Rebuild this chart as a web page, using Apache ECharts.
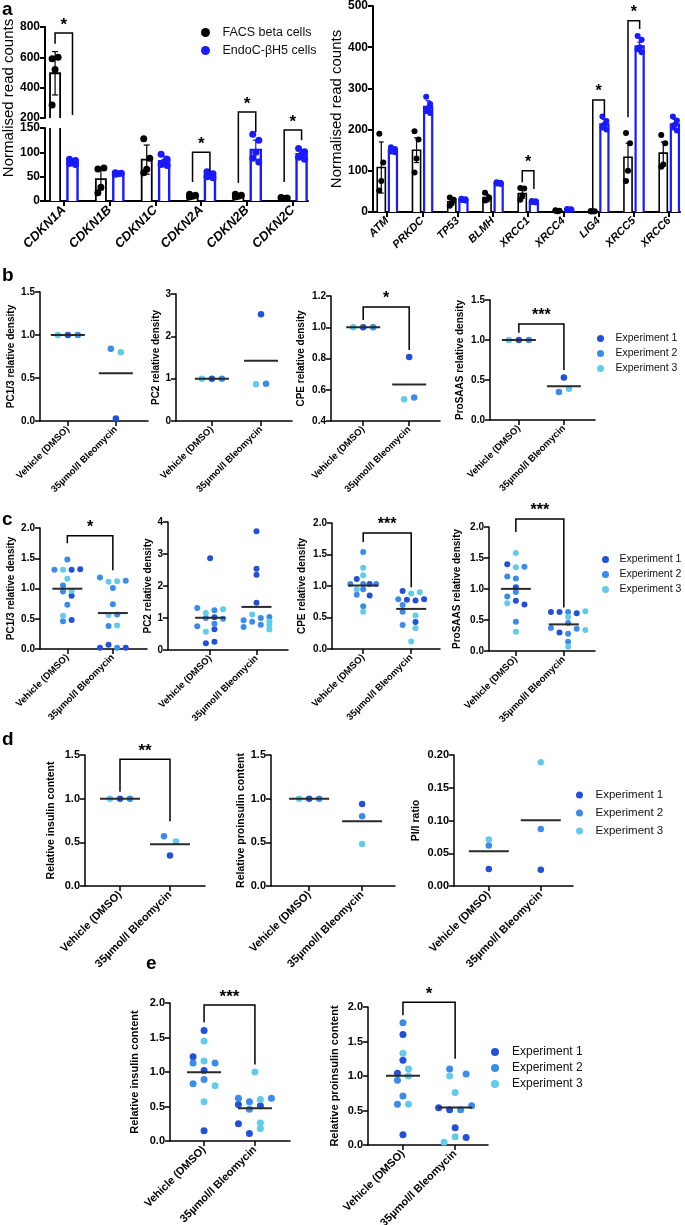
<!DOCTYPE html>
<html>
<head>
<meta charset="utf-8">
<title>Figure</title>
<script src="https://cdn.jsdelivr.net/npm/echarts@6.0.0/dist/echarts.min.js"></script>
<style>
  html, body { margin: 0; padding: 0; background: #fff; }
  #fig { width: 685px; height: 1225px; }
</style>
</head>
<body>
<div id="fig"></div>
<script>
// ---------- panel a: normalised read counts, mean +/- SD and the single samples
const genesA = ['CDKN1A', 'CDKN1B', 'CDKN1C', 'CDKN2A', 'CDKN2B', 'CDKN2C']
const facsMeanA = [495, 45, 85, 11, 11, 6]
const facsSdA = [143, 22, 30, 3, 3, 1]
const facsPtsA = [[590, 600, 520, 285], [66, 68, 28, 17], [128, 88, 65, 58], [14, 12, 10, 8], [14, 12, 10, 8], [7, 6, 5, 6]]
const endoMeanA = [80, 56, 82, 53, 105, 96]
const endoSdA = [4, 2, 10, 5, 20, 9]
const endoPtsA = [[86, 83, 80, 77, 75], [58, 57, 56, 55], [96, 86, 80, 75, 73], [60, 56, 52, 50, 48], [137, 125, 100, 88, 80], [108, 101, 95, 90, 86]]
// [gene, bracket top, left leg end, right leg end, label]
const sigA = [[0, 760, 690, 220, '*'], [3, 100, 39, 60, '*'], [4, 183, 37, 142, '*'], [5, 146, 39, 125, '*']]

const genesB = ['ATM', 'PRKDC', 'TP53', 'BLMH', 'XRCC1', 'XRCC4', 'LIG4', 'XRCC5', 'XRCC6']
const facsMeanB = [108, 150, 25, 35, 45, 3, 2, 133, 143]
const facsSdB = [62, 30, 8, 8, 12, 1, 1, 34, 27]
const facsPtsB = [[190, 120, 75, 52], [196, 176, 130, 96], [35, 30, 22, 15], [47, 35, 30, 28], [58, 57, 40, 30], [4, 3, 2, 3], [2, 2, 1, 2], [192, 167, 100, 75], [187, 167, 115, 110]]
const endoMeanB = [150, 255, 30, 70, 25, 6, 213, 402, 213]
const endoSdB = [6, 15, 2, 2, 2, 1, 12, 10, 12]
const endoPtsB = [[157, 153, 150, 147, 145], [280, 262, 252, 245, 240], [32, 31, 30, 29, 28], [72, 71, 70, 69, 68], [27, 26, 25, 24, 23], [7, 6, 6, 5, 6], [232, 221, 212, 205, 200], [427, 418, 400, 395, 388], [232, 222, 212, 205, 198]]
const sigB = [[4, 100, 72, 56, '*'], [6, 272, 4, 234, '*'], [7, 464, 230, 444, '*']]

// ---------- panels b-e: [value, experiment, swarm slot]
const groupNames = ['Vehicle (DMSO)', '35µmol/l Bleomycin']
const expNames = ['Experiment 1', 'Experiment 2', 'Experiment 3']

const bPc13Veh = [[1, 3, -1], [1, 1, 0], [1, 2, 1]]
const bPc13Bleo = [[0.84, 2, -0.5], [0.03, 1, 0], [0.80, 3, 0.5]]
const bPc2Veh = [[1, 3, -1], [1, 1, 0], [1, 2, 1]]
const bPc2Bleo = [[2.52, 1, 0], [0.87, 3, -0.5], [0.88, 2, 0.5]]
const bCpeVeh = [[1, 3, -1], [1, 1, 0], [1, 2, 1]]
const bCpeBleo = [[0.81, 1, 0], [0.54, 3, -0.5], [0.55, 2, 0.5]]
const bSaasVeh = [[1, 3, -1], [1, 1, 0], [1, 2, 1]]
const bSaasBleo = [[0.53, 1, 0], [0.35, 2, -0.5], [0.39, 3, 0.5]]
const bSigCpe = [1.13, 1.046, 0.855, '*']
const bSigSaas = [1.2, 1.09, 0.625, '***']

const cPc13Veh = [[1.48, 2, 0], [1.31, 2, -3], [1.31, 3, -1], [1.31, 1, 1], [1.32, 1, 3], [1.16, 3, 0], [1.05, 2, -1], [0.95, 2, -1], [0.96, 3, 1], [0.88, 1, 1], [0.73, 2, 0], [0.55, 3, -1], [0.46, 2, -1], [0.48, 1, 1]]
const cPc13Bleo = [[1.18, 2, -3], [1.11, 3, -1], [1.12, 3, 1], [1.13, 2, 3], [1.01, 2, 0], [0.74, 2, 0], [0.56, 3, -1], [0.57, 2, 1], [0.38, 2, -1], [0.39, 3, 1], [0.07, 1, -1], [0.02, 1, -3], [0.02, 2, 1], [0.02, 1, 3]]
const cPc2Veh = [[2.87, 1, 0], [1.31, 2, -3], [1.16, 3, -1], [1.24, 2, 1], [1.27, 3, 3], [1.0, 2, -1], [1.02, 1, 1], [0.98, 2, 3], [0.82, 2, 1], [0.74, 2, -3], [0.57, 3, -1], [0.65, 1, 1], [0.21, 1, -1], [0.26, 1, 1]]
const cPc2Bleo = [[3.71, 1, 0], [2.54, 1, 0], [2.35, 1, 0], [1.48, 1, 0], [1.11, 3, -1], [1.0, 2, 1], [1.03, 2, 3], [0.93, 2, -3], [0.89, 3, 3], [0.88, 2, -1], [0.79, 2, 1], [0.78, 3, 3], [0.72, 2, -3], [0.64, 3, 3]]
const cCpeVeh = [[1.54, 2, 0], [1.29, 3, 0], [1.17, 3, 0], [1.11, 1, -1.5], [1.03, 2, -3], [1.03, 2, 0], [1.03, 1, 1.5], [1.03, 2, 3], [0.95, 3, -1.5], [0.95, 2, 0], [0.86, 2, -1.5], [0.85, 1, 1.5], [0.68, 2, 0], [0.59, 3, 0]]
const cCpeBleo = [[0.92, 1, -2], [0.88, 3, 0], [0.90, 3, 2], [0.79, 2, -3], [0.78, 1, -1], [0.77, 1, 1], [0.79, 1, 3], [0.70, 2, -2], [0.59, 2, -2], [0.53, 3, 1], [0.38, 2, -2], [0.43, 1, 1], [0.33, 3, 1], [0.12, 3, 0]]
const cSaasVeh = [[1.58, 3, 0], [1.40, 1, -2], [1.35, 3, 0], [1.36, 2, 2], [1.20, 2, -2], [1.17, 2, 0], [1.03, 1, 0], [0.95, 2, 0], [0.88, 2, -2], [0.81, 1, 0], [0.77, 3, -2], [0.75, 1, 2], [0.47, 2, 0], [0.31, 3, 0]]
const cSaasBleo = [[0.63, 1, -3], [0.63, 1, -1], [0.63, 2, 1], [0.61, 1, 3], [0.64, 3, 5], [0.55, 3, 1], [0.45, 2, 1], [0.37, 2, -3], [0.36, 2, 3], [0.34, 3, 5], [0.30, 1, -1], [0.28, 2, 1], [0.15, 2, 1], [0.07, 3, 1]]
const cSigPc13 = [1.87, 1.75, 1.30, '*']
const cSigCpe = [1.84, 1.70, 0.98, '***']
const cSigSaas = [2.13, 1.92, 0.70, '***']

const dInsVeh = [[1, 3, -1], [1, 1, 0], [1, 2, 1]]
const dInsBleo = [[0.57, 2, -0.6], [0.35, 1, 0], [0.51, 3, 0.6]]
const dProVeh = [[1, 3, -1], [1, 1, 0], [1, 2, 1]]
const dProBleo = [[0.94, 1, 0], [0.80, 2, 0], [0.48, 3, 0]]
const dPiVeh = [[0.071, 3, 0], [0.062, 2, 0], [0.026, 1, 0]]
const dPiBleo = [[0.189, 3, 0], [0.087, 2, 0], [0.025, 1, 0]]
const dSigIns = [1.45, 1.08, 0.74, '**']

const eInsVeh = [[1.60, 1, 0], [1.45, 3, 0], [1.22, 1, -1], [1.13, 2, -1], [1.16, 3, 0], [1.13, 2, 1], [1.02, 1, 0], [0.83, 2, -1], [0.89, 2, 0], [0.80, 3, 1], [0.57, 3, 0], [0.15, 1, 0]]
const eInsBleo = [[1.0, 3, 0], [0.62, 2, -1.5], [0.57, 2, -0.5], [0.60, 3, 0.5], [0.62, 2, 1.5], [0.53, 1, -1.5], [0.51, 1, 0.5], [0.46, 2, -0.5], [0.25, 1, -1.5], [0.26, 3, 0.5], [0.18, 3, 0.5], [0.11, 1, -0.5]]
const eProVeh = [[1.77, 2, 0], [1.60, 1, 0], [1.33, 3, 0], [1.23, 1, 0], [1.04, 1, -0.5], [1.10, 3, 0.5], [1.00, 3, 0.5], [0.94, 2, -0.5], [0.71, 2, 0], [0.59, 2, -0.5], [0.59, 3, 0.5], [0.15, 1, 0]]
const eProBleo = [[1.10, 2, -0.5], [1.03, 2, 1], [1.00, 3, -0.5], [0.76, 3, 0], [0.54, 1, -1.5], [0.51, 1, -0.5], [0.51, 2, 0.5], [0.57, 2, 1.5], [0.25, 1, 0], [0.12, 3, 0], [0.04, 3, -1], [0.11, 1, 1]]
const eSigIns = [1.97, 1.72, 1.11, '***']
const eSigPro = [2.07, 1.88, 1.25, '*']

// ---------- drawing
const FONT = "'Liberation Sans', Arial, Helvetica, sans-serif"
const expColors = ['#2350d8', '#3b8cea', '#62cbea']
const BLUE = '#1a1aff'
const grids = [], xAxes = [], yAxes = [], series = [], graphic = []

function addGrid(box, x, y) {
  const gi = grids.length
  grids.push({left: box[0], top: box[1], width: box[2], height: box[3], outerBoundsMode: 'none'})
  xAxes.push(Object.assign({gridIndex: gi, type: 'value'}, x))
  yAxes.push(Object.assign({gridIndex: gi, type: 'value'}, y))
  return gi
}

function catAxis(names, min, max, font, lw) {
  const ticks = names.map((n, i) => i)
  return {
    min, max,
    axisLine: {show: true, onZero: false, lineStyle: {color: '#000', width: lw}},
    axisTick: {show: true, customValues: ticks, length: 5, lineStyle: {color: '#000', width: lw}},
    axisLabel: Object.assign({customValues: ticks, rotate: 45, margin: 7, color: '#000', fontFamily: FONT,
      formatter: v => names[Math.round(v)]}, font),
    splitLine: {show: false}
  }
}

function valAxis(o) {
  return {
    min: o.min, max: o.max, interval: o.step,
    name: o.name || '', nameLocation: 'middle', nameGap: o.gap || 0,
    nameTextStyle: {fontSize: o.nameFs, fontWeight: o.nameW || 'bold', color: '#000', fontFamily: FONT},
    axisLine: {show: true, onZero: false, lineStyle: {color: '#000', width: o.lw}},
    axisTick: {show: true, length: 5, lineStyle: {color: '#000', width: o.lw}},
    axisLabel: {fontSize: o.fs, fontWeight: 'bold', color: '#000', fontFamily: FONT, margin: 5,
      formatter: v => v.toFixed(o.dec)},
    splitLine: {show: false}
  }
}

// bar with white fill and coloured outline, SD whiskers; clipped to its grid (broken axis)
function barSeries(gi, means, sds, off, wCat, color, lw) {
  series.push({
    type: 'custom', xAxisIndex: gi, yAxisIndex: gi, z: 2, silent: true,
    data: means.map((m, i) => [i + off, m, sds[i]]),
    renderItem(params, api) {
      const cs = params.coordSys
      const bottom = cs.y + cs.height, topLim = cs.y
      const x = api.value(0), m = api.value(1), s = api.value(2)
      const w = api.size([wCat, 0])[0]
      const p = api.coord([x, m])
      const cx = p[0], ym = p[1]
      const kids = []
      const st = {stroke: color, lineWidth: lw, fill: null}
      if (ym < bottom) {
        const yt = Math.max(ym, topLim)
        kids.push({type: 'rect', shape: {x: cx - w / 2, y: yt, width: w, height: bottom - yt}, style: {fill: '#fff'}})
        if (ym >= topLim) {
          kids.push({type: 'polyline', shape: {points: [[cx - w / 2, bottom], [cx - w / 2, yt], [cx + w / 2, yt], [cx + w / 2, bottom]]}, style: st})
        } else {
          kids.push({type: 'line', shape: {x1: cx - w / 2, y1: bottom, x2: cx - w / 2, y2: yt}, style: st})
          kids.push({type: 'line', shape: {x1: cx + w / 2, y1: bottom, x2: cx + w / 2, y2: yt}, style: st})
        }
      }
      const y1 = api.coord([x, m + s])[1], y2 = api.coord([x, m - s])[1]
      const a = Math.max(Math.min(y1, bottom), topLim), b = Math.max(Math.min(y2, bottom), topLim)
      const es = {stroke: color, lineWidth: 1.2}
      if (b > a) {
        kids.push({type: 'line', shape: {x1: cx, y1: a, x2: cx, y2: b}, style: es})
        const cap = w * 0.3
        if (y1 >= topLim && y1 <= bottom) kids.push({type: 'line', shape: {x1: cx - cap, y1: y1, x2: cx + cap, y2: y1}, style: es})
        if (y2 >= topLim && y2 <= bottom) kids.push({type: 'line', shape: {x1: cx - cap, y1: y2, x2: cx + cap, y2: y2}, style: es})
      }
      return {type: 'group', children: kids}
    }
  })
}

function barDots(gi, pts, off, name, color, size, lo, hi, jit) {
  const data = []
  pts.forEach((arr, i) => arr.forEach((v, j) => {
    if (v >= lo && v <= hi) data.push({value: [i + off, v], symbolOffset: [jit[j % jit.length], 0]})
  }))
  series.push({type: 'scatter', name, xAxisIndex: gi, yAxisIndex: gi, symbolSize: size,
    itemStyle: {color, opacity: 1}, data, z: 4, silent: true})
}

// significance bracket: [x1, x2, top, left end, right end, label]
function bracketSeries(gi, list, fs) {
  series.push({
    type: 'custom', xAxisIndex: gi, yAxisIndex: gi, z: 5, clip: false, silent: true,
    data: list.map(b => [b[0], b[2]]),
    renderItem(params, api) {
      const b = list[params.dataIndex]
      const pl = api.coord([b[0], b[3]]), tl = api.coord([b[0], b[2]])
      const tr = api.coord([b[1], b[2]]), pr = api.coord([b[1], b[4]])
      return {type: 'group', children: [
        {type: 'polyline', shape: {points: [pl, tl, tr, pr]}, style: {stroke: '#000', lineWidth: 1.5, fill: null}},
        {type: 'text', x: (tl[0] + tr[0]) / 2, y: tl[1] - 8,
          style: {text: b[5], fill: '#000', font: 'bold ' + fs + 'px ' + FONT,
            align: 'center', verticalAlign: 'middle', textAlign: 'center', textVerticalAlign: 'middle'}}
      ]}
    }
  })
}

const avg = g => g.reduce((s, p) => s + p[0], 0) / g.length

function dotPanel(p, veh, bleo, sig) {
  const gi = addGrid(p.box,
    catAxis(groupNames, p.xr[0], p.xr[1], {fontSize: p.xl, fontWeight: 'bold'}, 1.5),
    valAxis({min: p.y[0], max: p.y[1], step: p.y[2], dec: p.dec, fs: p.fs, lw: 1.5,
      name: p.name, gap: p.gap, nameFs: p.nameFs}))
  for (let k = 1; k <= 3; k++) {
    const data = []
    ;[veh, bleo].forEach((g, gx) => g.forEach(pt => {
      if (pt[1] === k) data.push({value: [gx, pt[0]], symbolOffset: [pt[2] * p.unit, 0]})
    }))
    series.push({type: 'scatter', name: expNames[k - 1], xAxisIndex: gi, yAxisIndex: gi,
      symbolSize: p.dot, itemStyle: {color: expColors[k - 1], opacity: 1}, data, z: 3, silent: true})
  }
  series.push({
    type: 'custom', xAxisIndex: gi, yAxisIndex: gi, z: 4, silent: true,
    data: [[0, avg(veh)], [1, avg(bleo)]],
    renderItem(params, api) {
      const q = api.coord([api.value(0), api.value(1)])
      return {type: 'line', shape: {x1: q[0] - p.half, y1: q[1], x2: q[0] + p.half, y2: q[1]},
        style: {stroke: '#2a2a2a', lineWidth: 2}}
    }
  })
  if (sig) bracketSeries(gi, [[0, 1].concat(sig)], p.star)
}

// ---- panel a, left (broken y axis: two grids)
const offA = 0.19, offB = 0.165
const jitA = [-3, 3, 0, -3, 3], jitB = [-2, 2, 0, -2, 2]
const aTop = addGrid([45, 27, 263, 91], {min: -0.41, max: 5.33, show: false},
  valAxis({min: 200, max: 800, step: 200, dec: 0, fs: 12, lw: 2}))
const aBot = addGrid([45, 128, 263, 73],
  catAxis(genesA, -0.41, 5.33, {fontSize: 13, fontWeight: 'bold', fontStyle: 'italic'}, 2),
  valAxis({min: 0, max: 150, step: 50, dec: 0, fs: 12, lw: 2}))
;[[aTop, 200, 800], [aBot, 0, 150]].forEach(([gi, lo, hi]) => {
  barSeries(gi, facsMeanA, facsSdA, -offA, 0.22, '#000', 1.8)
  barSeries(gi, endoMeanA, endoSdA, offA, 0.22, BLUE, 2.4)
  barDots(gi, facsPtsA, -offA, 'FACS beta cells', '#000', 7, lo, hi, jitA)
  barDots(gi, endoPtsA, offA, 'EndoC-βH5 cells', BLUE, 7, lo, hi, jitA)
})
bracketSeries(aTop, sigA.filter(s => s[1] > 200).map(s => [s[0] - offA, s[0] + offA, s[1], s[2], s[3], s[4]]), 17)
bracketSeries(aBot, sigA.filter(s => s[1] <= 200).map(s => [s[0] - offA, s[0] + offA, s[1], s[2], s[3], s[4]]), 17)

// ---- panel a, right
const aR = addGrid([373, 6, 307, 206],
  catAxis(genesB, -0.4, 8.31, {fontSize: 11, fontWeight: 'bold', fontStyle: 'italic'}, 2),
  valAxis({min: 0, max: 500, step: 100, dec: 0, fs: 12, lw: 2, name: 'Normalised read counts',
    gap: 27, nameFs: 15, nameW: 'normal'}))
barSeries(aR, facsMeanB, facsSdB, -offB, 0.23, '#000', 1.6)
barSeries(aR, endoMeanB, endoSdB, offB, 0.23, BLUE, 2.2)
barDots(aR, facsPtsB, -offB, 'FACS beta cells', '#000', 6, 0, 500, jitB)
barDots(aR, endoPtsB, offB, 'EndoC-βH5 cells', BLUE, 6, 0, 500, jitB)
bracketSeries(aR, sigB.map(s => [s[0] - offB, s[0] + offB, s[1], s[2], s[3], s[4]]), 16)

// ---- panel b
const stB = {xl: 9.5, fs: 10, nameFs: 10, unit: 10, dot: 6.5, half: 17, star: 16}
dotPanel(Object.assign({box: [40, 292, 108, 129], xr: [-0.58, 1.67], y: [0, 1.5, 0.5], dec: 1, name: 'PC1/3 relative density', gap: 24}, stB), bPc13Veh, bPc13Bleo)
dotPanel(Object.assign({box: [176, 294, 116, 127], xr: [-0.73, 1.63], y: [0, 3, 1], dec: 0, name: 'PC2 relative density', gap: 14}, stB), bPc2Veh, bPc2Bleo)
dotPanel(Object.assign({box: [331, 296, 109, 125], xr: [-0.7, 1.67], y: [0.4, 1.2, 0.2], dec: 1, name: 'CPE relative density', gap: 25}, stB), bCpeVeh, bCpeBleo, bSigCpe)
dotPanel(Object.assign({box: [490, 300, 105, 120], xr: [-0.64, 1.69], y: [0, 1.5, 0.5], dec: 1, name: 'ProSAAS relative density', gap: 25}, stB), bSaasVeh, bSaasBleo, bSigSaas)

// ---- panel c
const stC = {xl: 9.5, fs: 10, nameFs: 10, unit: 4.3, dot: 6, half: 15, star: 16}
dotPanel(Object.assign({box: [40, 528, 107, 121], xr: [-0.6, 1.75], y: [0, 2, 0.5], dec: 1, name: 'PC1/3 relative density', gap: 24}, stC), cPc13Veh, cPc13Bleo, cSigPc13)
dotPanel(Object.assign({box: [168, 522, 120, 128], xr: [-0.91, 1.68], y: [0, 4, 1], dec: 0, name: 'PC2 relative density', gap: 12}, stC), cPc2Veh, cPc2Bleo)
dotPanel(Object.assign({box: [332, 523, 108, 126], xr: [-0.65, 1.6], y: [0, 2, 0.5], dec: 1, name: 'CPE relative density', gap: 25}, stC), cCpeVeh, cCpeBleo, cSigCpe)
dotPanel(Object.assign({box: [489, 527, 106, 124], xr: [-0.56, 1.65], y: [0, 2, 0.5], dec: 1, name: 'ProSAAS relative density', gap: 27}, stC), cSaasVeh, cSaasBleo, cSigSaas)

// ---- panel d
const stD = {xl: 11, fs: 11, nameFs: 10.5, unit: 10, dot: 6.5, half: 20, star: 17}
dotPanel(Object.assign({box: [85, 755, 120, 131], xr: [-0.7, 1.7], y: [0, 1.5, 0.5], dec: 1, name: 'Relative insulin content', gap: 28}, stD), dInsVeh, dInsBleo, dSigIns)
dotPanel(Object.assign({box: [271, 755, 124, 131], xr: [-0.72, 1.62], y: [0, 1.5, 0.5], dec: 1, name: 'Relative proinsulin content', gap: 24}, stD), dProVeh, dProBleo)
dotPanel(Object.assign({box: [454, 755, 119, 131], xr: [-0.67, 1.62], y: [0, 0.2, 0.05], dec: 2, name: 'PI/I ratio', gap: 32}, stD), dPiVeh, dPiBleo)

// ---- panel e
const stE = {xl: 11, fs: 11, nameFs: 11, unit: 11, dot: 7, half: 17, star: 17}
dotPanel(Object.assign({box: [170, 1003, 120, 138], xr: [-0.67, 1.69], y: [0, 2, 0.5], dec: 1, name: 'Relative insulin content', gap: 30}, stE), eInsVeh, eInsBleo, eSigIns)
dotPanel(Object.assign({box: [368, 1007, 120, 138], xr: [-0.67, 1.63], y: [0, 2, 0.5], dec: 1, name: 'Relative proinsulin content', gap: 28}, stE), eProVeh, eProBleo, eSigPro)

// ---- legends, letters, shared axis title
function legendAt(names, left, top, w, h, fs, gap) {
  return {data: names, orient: 'vertical', left, top, icon: 'circle', itemWidth: w, itemHeight: h,
    itemGap: gap, padding: 0, selectedMode: false,
    textStyle: {fontSize: fs, color: '#111', fontFamily: FONT}}
}
const legends = [
  legendAt(['FACS beta cells', 'EndoC-βH5 cells'], 201, 26, 24, 9, 12.5, 5),
  legendAt(expNames, 597, 333, 20, 7, 10.5, 4),
  legendAt(expNames, 602, 554, 18, 7, 10.5, 4),
  legendAt(expNames, 576, 789, 22, 7, 11.5, 6),
  legendAt(expNames, 491, 1046, 24, 8, 12, 4)
]

;[['a', 2, 10], ['b', 2, 276], ['c', 2, 520], ['d', 2, 740], ['e', 146, 964]].forEach(([t, x, y]) => {
  graphic.push({type: 'text', left: x, top: y - 10, style: {text: t, font: 'bold 19px ' + FONT, fill: '#000'}})
})
graphic.push({type: 'text', x: 9, y: 98, rotation: Math.PI / 2,
  style: {text: 'Normalised read counts', font: '15px ' + FONT, fill: '#000', align: 'center', verticalAlign: 'middle'}})

const chart = echarts.init(document.getElementById('fig'))
chart.setOption({
  animation: false,
  backgroundColor: '#fff',
  textStyle: {fontFamily: FONT},
  grid: grids,
  xAxis: xAxes,
  yAxis: yAxes,
  legend: legends,
  graphic: graphic,
  series: series
})
</script>
</body>
</html>
